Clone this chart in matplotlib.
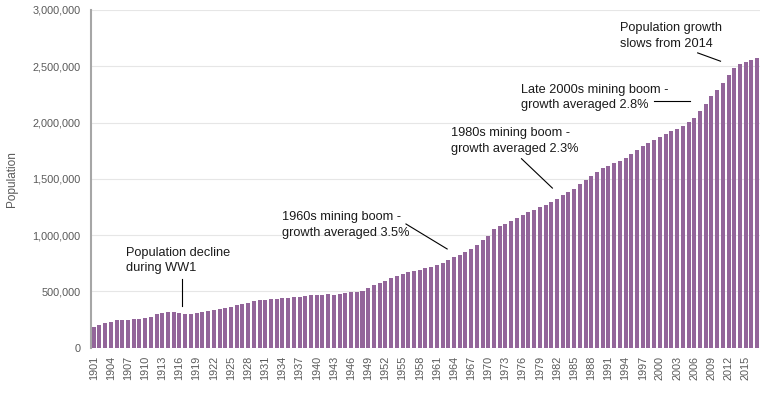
import matplotlib
matplotlib.use("Agg")
import matplotlib.pyplot as plt
from matplotlib.ticker import FuncFormatter, MultipleLocator

plt.rcParams['font.family'] = ['Liberation Sans', 'DejaVu Sans']

years = list(range(1901, 2018))
# population in thousands
pop_k = [
    184, 203, 221, 229, 244, 246, 247, 253, 255, 262,
    276, 300, 309, 315, 315, 306, 296, 297, 312, 320,
    323, 332, 341, 356, 365, 376, 385, 400, 412, 421,
    426, 429, 435, 440, 443, 449, 452, 461, 467, 469,
    470, 476, 470, 479, 485, 491, 494, 506, 530, 557,
    574, 592, 619, 634, 655, 670, 681, 690, 706, 720,
    736, 755, 777, 807, 822, 849, 875, 911, 955, 994,
    1053, 1083, 1101, 1127, 1154, 1181, 1205, 1225, 1249, 1266,
    1291, 1317, 1353, 1385, 1409, 1453, 1488, 1524, 1565, 1600,
    1618, 1641, 1659, 1689, 1718, 1753, 1790, 1818, 1847, 1871,
    1895, 1924, 1942, 1968, 2007, 2039, 2101, 2166, 2237, 2290,
    2349, 2423, 2485, 2517, 2538, 2553, 2573,
]
population = [v * 1000 for v in pop_k]
tick_years = years[::3]

notes = [
    "Population decline\nduring WW1",
    "1960s mining boom -\ngrowth averaged 3.5%",
    "1980s mining boom -\ngrowth averaged 2.3%",
    "Late 2000s mining boom -\ngrowth averaged 2.8%",
    "Population growth\nslows from 2014",
]
# text anchor (year, value) and leader line endpoints
note_text_pos = [(1906.6, 776e3), (1933.9, 1090e3), (1963.5, 1837e3), (1975.7, 2221e3), (1993.1, 2770e3)]
note_lines = [
    ((1916.4, 611e3), (1916.4, 371e3)),
    ((1955.6, 1099e3), (1962.8, 877e3)),
    ((1975.8, 1679e3), (1981.2, 1418e3)),
    ((1999.0, 2195e3), (2005.3, 2195e3)),
    ((2006.6, 2619e3), (2010.6, 2545e3)),
]

fig = plt.figure(figsize=(7.62, 4.01), dpi=100)
ax = fig.add_axes([91 / 762, 1 - 347.7 / 401, 669 / 762, (347.7 - 10) / 401])

ax.bar(years, population, width=0.7, color='#93659A', zorder=2)

ax.set_xlim(1900.53, 2017.5)
ax.set_ylim(0, 3_000_000)
ax.yaxis.set_major_locator(MultipleLocator(500_000))
ax.yaxis.set_major_formatter(FuncFormatter(lambda v, p: f"{int(v):,}"))
ax.set_xticks(tick_years)
ax.set_xticklabels([str(y) for y in tick_years], rotation=90)

ax.tick_params(axis='both', length=0, labelsize=7.8, labelcolor='#595959')
ax.tick_params(axis='y', pad=7.5)
ax.tick_params(axis='x', pad=6)

ax.grid(axis='y', color='#e6e6e6', linewidth=0.8, zorder=0)
ax.set_axisbelow(True)
for s in ['top', 'right', 'bottom']:
    ax.spines[s].set_visible(False)
ax.spines['left'].set_color('#a6a6a6')
ax.spines['left'].set_linewidth(1.5)

fig.text(12 / 762, 1 - 178.8 / 401, 'Population', rotation=90, ha='center', va='center',
         fontsize=8.5, color='#595959')

for txt, (tx, ty), (p0, p1) in zip(notes, note_text_pos, note_lines):
    ax.text(tx, ty, txt, ha='left', va='center', fontsize=9.2, color='#1a1a1a', linespacing=1.4, zorder=3)
    ax.plot([p0[0], p1[0]], [p0[1], p1[1]], color='black', linewidth=0.8, zorder=3)

fig.savefig('out.png', dpi=100)
